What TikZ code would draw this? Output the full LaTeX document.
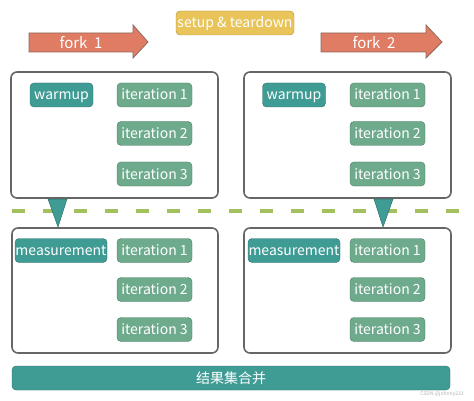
\documentclass[tikz,border=0pt]{standalone}
\usepackage{fontspec}
\setmainfont{Noto Sans CJK SC}
\definecolor{tealfill}{HTML}{3F9C95}
\definecolor{tealline}{HTML}{2E6E69}
\definecolor{iterfill}{HTML}{6EAA8C}
\definecolor{iterline}{HTML}{4A7A62}
\definecolor{setupfill}{HTML}{E8C45A}
\definecolor{setupline}{HTML}{B08F35}
\definecolor{forkfill}{HTML}{E07B64}
\definecolor{forkline}{HTML}{8E6A5E}
\definecolor{panelline}{HTML}{666666}
\definecolor{splitline}{HTML}{A2C05C}
\tikzset{
    panel/.style={draw=panelline, line width=1.6pt, rounded corners=6pt},
    phasebox/.style={draw=tealline, fill=tealfill, rounded corners=4pt, text=white,
        inner sep=0pt, minimum height=24pt, text height=11pt, text depth=1pt,
        font=\fontsize{14}{16}\selectfont},
    iterbox/.style={phasebox, draw=iterline, fill=iterfill, minimum width=75pt},
    forkarrow/.style={draw=forkline, fill=forkfill, line width=0.8pt},
    marker/.style={fill=tealfill, draw=tealline, line width=0.5pt},
}
\begin{document}
\begin{tikzpicture}[x=1pt, y=-1pt]
                \useasboundingbox (0,0) rectangle (474,401);
                % fork arrows and setup
                \draw[forkarrow] (29,33) -- (133,33) -- (133,25) -- (148,42) -- (133,58) -- (133,52) -- (29,52) -- cycle;
                \node[text=white, font=\fontsize{15}{17}\selectfont] (fork1) at (81,43) {fork\ \ 1};
                \draw[forkarrow] (321,33) -- (426,33) -- (426,25) -- (442,42) -- (426,58) -- (426,52) -- (321,52) -- cycle;
                \node[text=white, font=\fontsize{15}{17}\selectfont] (fork2) at (374,43) {fork\ \ 2};
                \node[phasebox, draw=setupline, fill=setupfill, minimum width=118pt] (setup) at (235,23) {setup \& teardown};
                % panels
                \draw[panel] (11,72) rectangle (218,198);
                \draw[panel] (244,72) rectangle (451,198);
                \draw[panel] (12,228) rectangle (218,353);
                \draw[panel] (244,228) rectangle (451,353);
                % warmup side
                \node[phasebox, minimum width=63pt] (warm1) at (61.5,95) {warmup};
                \node[iterbox] (wi11) at (154.5,95) {iteration 1};
                \node[iterbox] (wi12) at (154.5,133.5) {iteration 2};
                \node[iterbox] (wi13) at (154.5,174) {iteration 3};
                \node[phasebox, minimum width=63pt] (warm2) at (294,95) {warmup};
                \node[iterbox] (wi21) at (387.5,95) {iteration 1};
                \node[iterbox] (wi22) at (387.5,133.5) {iteration 2};
                \node[iterbox] (wi23) at (387.5,174) {iteration 3};
                % split line
                \draw[splitline, line width=4.5pt, dash pattern=on 13pt off 18pt] (12,211) -- (462,211);
                \draw[marker] (48,199) -- (67,199) -- (58,227) -- cycle;
                \draw[marker] (374,199) -- (393,199) -- (383,227) -- cycle;
                % measurement side
                \node[phasebox, minimum width=92pt] (meas1) at (61,250.5) {measurement};
                \node[iterbox] (mi11) at (154.5,250.5) {iteration 1};
                \node[iterbox] (mi12) at (154.5,289.5) {iteration 2};
                \node[iterbox] (mi13) at (154.5,329.5) {iteration 3};
                \node[phasebox, minimum width=92pt] (meas2) at (294,250.5) {measurement};
                \node[iterbox] (mi21) at (387.5,250.5) {iteration 1};
                \node[iterbox] (mi22) at (387.5,289.5) {iteration 2};
                \node[iterbox] (mi23) at (387.5,329.5) {iteration 3};
                % merge bar
                \node[phasebox, minimum width=438pt] (merge) at (231,378) {结果集合并};
                \node[text=gray!60, font=\fontsize{5}{6}\selectfont] (mark) at (442,394) {CSDN @johnny233};
\end{tikzpicture}
\end{document}
